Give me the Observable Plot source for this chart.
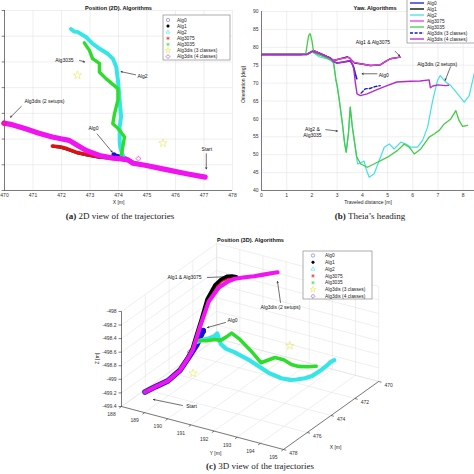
<!DOCTYPE html>
<html><head><meta charset="utf-8">
<script src="https://cdn.jsdelivr.net/npm/d3@7"></script>
<script src="https://cdn.jsdelivr.net/npm/@observablehq/plot@0.6"></script>
<style>
html,body{margin:0;padding:0;background:#fff;}
#root{position:relative;width:474px;height:474px;overflow:hidden;background:#fff;}
#root > svg{position:absolute;}
</style></head><body><div id="root"></div>
<script>
// ---------------- DATA ----------------
const seriesNames = ["Alg0","Alg1","Alg2","Alg3075","Alg3035","Alg3dis (3 classes)","Alg3dis (4 classes)"];

// Trajectories: X [m], Y [m] (2D view) and Z [m] (3D view)
const alg0X = [477.04, 476.39, 475.68, 474.98, 474.51, 474.20, 473.84];
const alg0Y = [188.52, 188.65, 188.81, 188.97, 189.10, 189.30, 189.39];
const alg0Z = [-499.26, -499.25, -499.24, -499.16, -499.02, -498.85, -498.68];

const alg1X = [477.04, 476.39, 475.68, 474.98, 474.51, 474.33, 474.09, 473.80, 473.33, 472.86, 472.51, 472.21, 471.98, 471.70];
const alg1Y = [188.52, 188.65, 188.81, 188.97, 189.06, 189.17, 189.21, 189.25, 189.29, 189.39, 189.48, 189.60, 189.68, 189.72];
const alg1Z = [-499.26, -499.25, -499.24, -499.15, -499.02, -498.90, -498.74, -498.57, -498.29, -498.13, -498.08, -498.06, -498.08, -498.12];

const alg3075X = [477.04, 476.39, 475.68, 474.98, 474.51, 474.33, 474.09, 473.80, 473.33, 472.86, 472.51, 472.21, 471.98, 471.68];
const alg3075Y = [188.52, 188.65, 188.81, 188.97, 189.06, 189.19, 189.23, 189.26, 189.30, 189.40, 189.49, 189.62, 189.69, 189.73];
const alg3075Z = [-499.26, -499.25, -499.24, -499.16, -499.04, -498.92, -498.77, -498.61, -498.32, -498.16, -498.10, -498.08, -498.10, -498.13];

const alg2X = [474.20, 474.12, 474.06, 474.04, 474.04, 474.04, 474.04, 474.09, 474.04, 473.98, 473.92, 473.80, 473.62, 473.33, 473.09, 472.86, 472.56, 472.45, 472.33];
const alg2Y = [189.25, 189.45, 189.70, 189.95, 190.10, 190.25, 190.47, 190.86, 191.51, 192.29, 192.81, 193.13, 193.32, 193.52, 193.71, 193.97, 194.17, 194.18, 194.28];
const alg2Z = [-498.82, -498.78, -498.74, -498.69, -498.63, -498.77, -498.82, -498.83, -498.90, -499.02, -499.06, -499.07, -499.07, -499.07, -499.05, -498.97, -498.89, -498.88, -498.86];

const alg3035X = [474.09, 474.15, 474.21, 474.09, 473.95, 473.80, 473.86, 473.98, 473.98, 473.56, 473.33, 473.33, 473.09, 472.98, 472.80];
const alg3035Y = [189.30, 189.69, 190.08, 190.27, 190.45, 190.60, 190.99, 191.51, 191.96, 192.35, 192.61, 192.94, 193.13, 193.45, 193.74];
const alg3035Z = [-498.80, -498.76, -498.70, -498.71, -498.66, -498.61, -498.66, -498.76, -498.90, -498.84, -498.88, -498.92, -498.96, -498.95, -498.94];

const alg3dis3X = [472.56, 475.56];
const alg3dis3Y = [192.48, 189.84];
const alg3dis3Z = [-498.78, -499.05];

const alg3dis4X = [477.04, 476.39, 475.68, 474.98, 474.51, 474.33, 474.09, 473.80, 473.33, 472.86, 472.51, 472.27, 471.98, 471.68, 471.21, 470.74, 470.27, 469.98];
const alg3dis4Y = [188.52, 188.65, 188.81, 188.97, 189.06, 189.19, 189.23, 189.26, 189.36, 189.56, 189.79, 189.95, 190.01, 190.08, 190.23, 190.40, 190.56, 190.62];
const alg3dis4Z = [-499.26, -499.25, -499.24, -499.16, -499.04, -498.92, -498.77, -498.61, -498.32, -498.15, -498.08, -498.06, -498.08, -498.10, -498.13, -498.15, -498.17, -498.19];
const alg3dis4MarkX = [474.70, 469.98];
const alg3dis4MarkY = [189.24, 190.62];
const alg3dis4MarkZ = [-498.90, -498.19];

// Heading (panel b): traveled distance [m] and orientation [deg]
const hAlg0D = [0, 1.8, 2.07, 2.34, 2.73, 2.86, 3.0, 3.26, 3.52, 3.6, 3.66, 3.72, 3.78];
const hAlg0 = [78, 78, 79, 78.2, 77, 76, 75.6, 75.9, 76.2, 75.3, 74.4, 72.6, 71.2];
const hAlg1D = [0, 1.54, 1.8, 2.07, 2.34, 2.73, 2.86, 3.13, 3.4, 3.5, 3.6, 3.7, 3.92, 4.32, 4.71, 4.91, 5.11, 5.44, 5.5];
const hAlg1 = [78, 78, 78.1, 79.1, 78.2, 77, 76.3, 76.8, 77.3, 77, 76.2, 75.6, 75.4, 74.9, 75.1, 76, 76.8, 77.2, 77.2];
const hAlg2D = [0, 1.8, 2.0, 2.3, 2.6, 2.75, 2.86, 2.95, 3.0, 3.08, 3.13, 3.21, 3.3, 3.36, 3.45, 3.52, 3.6, 3.68, 3.81, 3.95, 4.07, 4.15, 4.27, 4.47, 4.67, 4.87, 5.07, 5.26, 5.53, 5.73, 5.93, 6.19, 6.39, 6.59, 6.79, 6.98, 7.09, 7.31, 7.51, 7.78, 8.04, 8.24, 8.45];
const hAlg2 = [78, 78, 78.8, 77.3, 76.8, 76.3, 75.5, 71, 69.3, 65.5, 62.9, 58.6, 53, 50.7, 56, 63.3, 58, 54, 47.4, 47.8, 48.2, 46, 43.7, 44.7, 48.4, 52.1, 53, 51.6, 53.5, 53, 52.1, 52.1, 54, 57.7, 65.1, 70.7, 72.1, 70.3, 69.3, 67, 64.7, 66.5, 73];
const hAlg3075D = [0, 1.54, 1.8, 2.07, 2.34, 2.73, 2.86, 3.13, 3.46, 3.66, 3.92, 4.32, 4.71, 4.91, 5.11, 5.44, 5.5];
const hAlg3075 = [78, 78, 78.1, 79.1, 78.2, 77, 76.3, 76.8, 77.2, 75.8, 75.4, 74.9, 75.1, 76, 76.8, 77.2, 77.2];
const hAlg3035D = [0, 1.75, 1.87, 1.93, 2.0, 2.07, 2.3, 2.6, 2.75, 2.86, 2.95, 3.0, 3.08, 3.13, 3.21, 3.3, 3.36, 3.45, 3.52, 3.6, 3.68, 3.78, 3.94, 4.2, 4.6, 5.0, 5.4, 5.66, 5.86, 6.06, 6.32, 6.65, 6.85, 7.05, 7.25, 7.51, 7.71, 7.84, 7.98, 8.17];
const hAlg3035 = [78, 78, 83.3, 83.8, 81.9, 78.5, 77.8, 77, 76.5, 75.8, 71, 69.3, 65.5, 62.9, 58.6, 53, 50.7, 56, 63.3, 58, 54, 49.3, 47.4, 46.5, 47.9, 49.3, 51.2, 53, 52.1, 50.2, 51.6, 54.9, 55.8, 56.8, 58.6, 60, 62.3, 59.5, 57.9, 58.2];
const hAlg3dis3D = [3.95, 4.12, 4.3, 4.5, 4.71];
const hAlg3dis3 = [67.2, 68.4, 68.5, 69, 69.3];
const hAlg3dis4D = [0, 1.8, 2.0, 2.34, 2.73, 2.86, 3.0, 3.26, 3.52, 3.6, 3.66, 3.72, 3.79, 3.92, 4.19, 4.58, 4.98, 5.37, 5.9, 6.3, 6.65, 6.7, 6.8, 7.0, 7.3, 7.42];
const hAlg3dis4 = [78, 78, 78.9, 78.2, 77, 76, 75.6, 75.9, 76.3, 75.4, 74, 70.3, 67, 66.5, 67, 68.2, 69.3, 70.3, 70.5, 70.6, 70.9, 68.7, 69.2, 69.5, 69.3, 69.4];

// Tick values
const aTicksX = [470, 471, 472, 473, 474, 475, 476, 477, 478];
const aTicksY = [188, 189, 190, 191, 192, 193, 194, 195];
const bTicksX = [0, 1, 2, 3, 4, 5, 6, 7, 8];
const bTicksY = [40, 45, 50, 55, 60, 65, 70, 75, 80, 85, 90];
const cTicksX = [470, 472, 474, 476, 478];
const cTicksY = [188, 189, 190, 191, 192, 193, 194, 195];
const cTicksZ = [-499.4, -499.2, -499, -498.8, -498.6, -498.4, -498.2, -498];

// Annotations
const aNotes = [
  {text: "Alg3035", x: 472.1, y: 193.05},
  {text: "Alg2", x: 474.84, y: 192.43},
  {text: "Alg3dis (2 setups)", x: 471.4, y: 191.46},
  {text: "Alg0", x: 473.12, y: 190.41},
  {text: "Start", x: 477.1, y: 189.6}
];
const aArrows = [
  {x1: 472.63, y1: 193.06, x2: 472.81, y2: 193.0},
  {x1: 474.6, y1: 192.5, x2: 474.09, y2: 192.62},
  {x1: 470.59, y1: 191.27, x2: 470.21, y2: 190.85},
  {x1: 473.25, y1: 190.2, x2: 473.78, y2: 189.49},
  {x1: 477.08, y1: 189.43, x2: 477.08, y2: 188.84}
];
const bNotes = [
  {text: "Alg1 & Alg3075", x: 4.42, y: 81.6, anchor: "middle"},
  {text: "Alg0", x: 4.85, y: 72.3, anchor: "middle"},
  {text: "Alg3dis (2 setups)", x: 6.97, y: 75.4, anchor: "start"},
  {text: "Alg2 &\nAlg3035", x: 2.02, y: 56.3, anchor: "middle"}
];
const bArrows = [
  {x1: 5.3, y1: 78.9, x2: 5.48, y2: 77.6},
  {x1: 4.58, y1: 72.6, x2: 3.99, y2: 72.6},
  {x1: 7.49, y1: 74.4, x2: 7.29, y2: 70.8},
  {x1: 2.55, y1: 57, x2: 3.01, y2: 56.6}
];
const cNotes = [
  {text: "Alg1 & Alg3075", u: 184, v: 277},
  {text: "Alg3dis (2 setups)", u: 280, v: 307},
  {text: "Alg0", u: 232, v: 320},
  {text: "Start", u: 191, v: 406}
];
const cArrows = [
  {u1: 207, v1: 277, u2: 230, v2: 276},
  {u1: 280, v1: 302, u2: 277, v2: 281},
  {u1: 225, v1: 322, u2: 207, v2: 327},
  {u1: 182, v1: 405, u2: 153, v2: 399}
];
const cAxisTitles = [{text: "Y [m]", u: 215, v: 453}, {text: "X [m]", u: 335, v: 447}];

// ---------------- STYLE ----------------
const FONT = "'Liberation Sans', Arial, Helvetica, sans-serif";
const SERIF = "'Liberation Serif', 'DejaVu Serif', 'Times New Roman', serif";
const C = {
  alg0: "#1414d2", alg1: "#000000", alg2: "#36e6e6", alg3075: "#e01010",
  alg3035: "#2edc2e", alg3dis3: "#e6e65a", alg3dis4: "#f014f0",
  bAlg2: "#44e0e6", bAlg3075: "#e83ee8", bAlg3035: "#44cc44", bAlg3dis4: "#b42cc8", bAlg0: "#1a1ac8"
};
const GRID = "#dedede", AXIS = "#2a2a2a";

const root = document.getElementById("root");
const pts = (X, Y) => X.map((x, i) => ({x, y: Y[i]}));
const lineOpts = {x: "x", y: "y", strokeLinejoin: "round", strokeLinecap: "round"};

// ---------------- PANEL A ----------------
const plotA = Plot.plot({
  width: 237, height: 210, marginLeft: 4, marginRight: 5, marginTop: 10, marginBottom: 20,
  x: {domain: [470, 478]}, y: {domain: [188, 195], axis: null},
  style: {fontFamily: FONT, fontSize: "5px", background: "transparent", overflow: "visible"},
  marks: [
    Plot.gridX(aTicksX, {stroke: GRID, strokeOpacity: 1, strokeWidth: 0.5}),
    Plot.gridY(aTicksY, {stroke: GRID, strokeOpacity: 1, strokeWidth: 0.5}),
    Plot.axisX(aTicksX, {tickSize: 0, tickPadding: 3, label: null, fill: "#333"}),
    Plot.link(aTicksY, {x1: () => 470, x2: () => 469.9, y1: d => d, y2: d => d, stroke: AXIS, strokeWidth: 0.6}),
    Plot.ruleX([470], {stroke: AXIS, strokeWidth: 0.6}),
    Plot.ruleY([188], {stroke: AXIS, strokeWidth: 0.6}),
    Plot.line(pts(alg0X, alg0Y), {...lineOpts, stroke: C.alg0, strokeWidth: 3}),
    Plot.dot([{x: alg0X[alg0X.length - 1], y: alg0Y[alg0Y.length - 1]}], {x: "x", y: "y", r: 1.8, fill: C.alg0, stroke: C.alg0}),
    Plot.line(pts(alg1X, alg1Y), {...lineOpts, stroke: C.alg1, strokeWidth: 3}),
    Plot.line(pts(alg2X, alg2Y), {...lineOpts, stroke: C.alg2, strokeWidth: 4}),
    Plot.line(pts(alg3075X, alg3075Y), {...lineOpts, stroke: C.alg3075, strokeWidth: 3.6}),
    Plot.line(pts(alg3035X, alg3035Y), {...lineOpts, stroke: C.alg3035, strokeWidth: 3.4}),
    Plot.dot(pts(alg3dis3X, alg3dis3Y), {x: "x", y: "y", symbol: "star", r: 2.6, stroke: C.alg3dis3, strokeWidth: 0.6, fill: "none"}),
    Plot.line(pts(alg3dis4X, alg3dis4Y), {...lineOpts, stroke: C.alg3dis4, strokeWidth: 5.2}),
    Plot.dot(pts(alg3dis4MarkX, alg3dis4MarkY), {x: "x", y: "y", symbol: "diamond2", r: 2.2, stroke: (d, i) => i === 0 ? C.alg3dis4 : C.alg3075, strokeWidth: 0.7, fill: "none"}),
    Plot.arrow(aArrows, {x1: "x1", y1: "y1", x2: "x2", y2: "y2", stroke: "#111", strokeWidth: 0.6, headLength: 3.5, headAngle: 50}),
    Plot.text(aNotes, {x: "x", y: "y", text: "text", fontSize: 5, fill: "#111"}),
    Plot.text(["Position (2D). Algorithms"], {frameAnchor: "top", dy: -4, fontWeight: "bold", fontSize: 5.6, fill: "#111"}),
    Plot.text(["X [m]"], {frameAnchor: "bottom", dy: 13, fontSize: 5, fill: "#222"})
  ]
});
plotA.style.left = "0px"; plotA.style.top = "0px";
root.appendChild(plotA);

// ---------------- PANEL B ----------------
const bLine = (D, V, stroke, w, extra = {}) => Plot.line(pts(D, V), {...lineOpts, stroke, strokeWidth: w, clip: true, ...extra});
const plotB = Plot.plot({
  width: 237, height: 210, marginLeft: 24, marginRight: 0, marginTop: 11, marginBottom: 20,
  x: {domain: [0, 8.45]}, y: {domain: [40, 90]},
  style: {fontFamily: FONT, fontSize: "5px", background: "transparent", overflow: "visible"},
  marks: [
    Plot.gridX(bTicksX, {stroke: GRID, strokeOpacity: 1, strokeWidth: 0.5}),
    Plot.gridY(bTicksY, {stroke: GRID, strokeOpacity: 1, strokeWidth: 0.5}),
    Plot.axisX(bTicksX, {tickSize: 0, tickPadding: 3, label: null, fill: "#333"}),
    Plot.axisY(bTicksY, {tickSize: 0, tickPadding: 3, label: null, fill: "#333"}),
    Plot.ruleX([0], {stroke: AXIS, strokeWidth: 0.6}),
    Plot.ruleY([40], {stroke: AXIS, strokeWidth: 0.6}),
    bLine(hAlg0D, hAlg0, C.bAlg0, 1.6),
    bLine(hAlg1D, hAlg1, C.alg1, 1.4),
    bLine(hAlg2D, hAlg2, C.bAlg2, 1.2),
    bLine(hAlg3075D, hAlg3075, C.bAlg3075, 1.4),
    bLine(hAlg3035D, hAlg3035, C.bAlg3035, 1.3),
    bLine(hAlg3dis3D, hAlg3dis3, C.bAlg0, 1.4, {strokeDasharray: "3,2"}),
    bLine(hAlg3dis4D, hAlg3dis4, C.bAlg3dis4, 1.4),
    Plot.arrow(bArrows, {x1: "x1", y1: "y1", x2: "x2", y2: "y2", stroke: "#111", strokeWidth: 0.6, headLength: 3.5, headAngle: 50}),
    Plot.text(bNotes, {x: "x", y: "y", text: "text", textAnchor: d => d.anchor, fontSize: 5, fill: "#111", lineHeight: 1.25}),
    Plot.text(["Yaw. Algorithms"], {frameAnchor: "top", dx: 7, dy: -5, fontWeight: "bold", fontSize: 5.6, fill: "#111"}),
    Plot.text(["Traveled distance [m]"], {frameAnchor: "bottom", dy: 13, fontSize: 5, fill: "#222"}),
    Plot.text(["Orientation [deg]"], {frameAnchor: "left", dx: -18, dy: 2, rotate: -90, fontSize: 5, fill: "#222"})
  ]
});
plotB.style.left = "237px"; plotB.style.top = "0px";
root.appendChild(plotB);

// ---------------- PANEL C (3D) ----------------
const view3d = {u0: 121, v0: 406, ux: -11.9, vx: 8.5, uy: 23.14, vy: 6.14, vz: -67.9, X0: 478, Y0: 188, Z0: -499.4};
function P(X, Y, Z) {
  return {
    u: view3d.u0 + view3d.ux * (X - view3d.X0) + view3d.uy * (Y - view3d.Y0),
    v: view3d.v0 + view3d.vx * (X - view3d.X0) + view3d.vy * (Y - view3d.Y0) + view3d.vz * (Z - view3d.Z0)
  };
}
const traj3 = (X, Y, Z) => X.map((x, i) => P(x, Y[i], Z[i]));
const xMin = d3.min(cTicksX), xMax = d3.max(cTicksX), yMin = d3.min(cTicksY), yMax = d3.max(cTicksY), zMin = d3.min(cTicksZ), zMax = d3.max(cTicksZ);
const seg = (a, b) => ({u1: a.u, v1: a.v, u2: b.u, v2: b.v});
const grid3 = [];
cTicksX.forEach(x => { grid3.push(seg(P(x, yMin, zMin), P(x, yMax, zMin))); grid3.push(seg(P(x, yMin, zMin), P(x, yMin, zMax))); });
cTicksY.forEach(y => { grid3.push(seg(P(xMin, y, zMin), P(xMax, y, zMin))); grid3.push(seg(P(xMin, y, zMin), P(xMin, y, zMax))); });
cTicksZ.forEach(z => { grid3.push(seg(P(xMin, yMin, z), P(xMax, yMin, z))); grid3.push(seg(P(xMin, yMin, z), P(xMin, yMax, z))); });
const axes3 = [
  seg(P(xMax, yMin, zMin), P(xMax, yMin, zMax)),
  seg(P(xMax, yMin, zMin), P(xMax, yMax, zMin)),
  seg(P(xMax, yMax, zMin), P(xMin, yMax, zMin))
];
const zTicks3 = cTicksZ.map(z => ({...P(xMax, yMin, z), label: String(+z.toFixed(1))}));
const yTicks3 = cTicksY.map(y => ({...P(xMax, y, zMin), label: String(y)}));
const xTicks3 = cTicksX.map(x => ({...P(x, yMax, zMin), label: String(x)}));
const lineC = {x: "u", y: "v", strokeLinejoin: "round", strokeLinecap: "round"};
const startPt = P(alg3dis4X[0], alg3dis4Y[0], alg3dis4Z[0]);
const blob = P(alg0X[alg0X.length - 1], alg0Y[alg0Y.length - 1], alg0Z[alg0Z.length - 1]);

const plotC = Plot.plot({
  width: 474, height: 232, marginLeft: 0, marginRight: 0, marginTop: 0, marginBottom: 0,
  x: {domain: [0, 474], range: [0, 474], axis: null}, y: {domain: [232, 464], range: [0, 232], axis: null},
  style: {fontFamily: FONT, fontSize: "5px", background: "transparent", overflow: "visible"},
  marks: [
    Plot.link(grid3, {x1: "u1", y1: "v1", x2: "u2", y2: "v2", stroke: GRID, strokeWidth: 0.5}),
    Plot.link(axes3, {x1: "u1", y1: "v1", x2: "u2", y2: "v2", stroke: AXIS, strokeWidth: 0.6}),
    Plot.link(zTicks3, {x1: "u", y1: "v", x2: d => d.u - 3, y2: "v", stroke: AXIS, strokeWidth: 0.6}),
    Plot.link(yTicks3, {x1: "u", y1: "v", x2: d => d.u - 2.2, y2: d => d.v + 1.6, stroke: AXIS, strokeWidth: 0.6}),
    Plot.link(xTicks3, {x1: "u", y1: "v", x2: d => d.u + 2.8, y2: d => d.v + 0.8, stroke: AXIS, strokeWidth: 0.6}),
    Plot.text(zTicks3, {x: "u", y: "v", text: "label", dx: -5, textAnchor: "end", fill: "#333"}),
    Plot.text(yTicks3, {x: "u", y: "v", text: "label", dx: -10, dy: 8, fill: "#333"}),
    Plot.text(xTicks3, {x: "u", y: "v", text: "label", dx: 10, dy: 4, fill: "#333"}),
    Plot.text(cAxisTitles, {x: "u", y: "v", text: "text", fill: "#222"}),
    Plot.text(["Z [m]"], {x: () => 97, y: () => 358, rotate: -90, fill: "#222"}),
    Plot.line(traj3(alg0X, alg0Y, alg0Z), {...lineC, stroke: C.alg0, strokeWidth: 5.6}),
    Plot.dot([blob], {x: "u", y: "v", r: 2.2, fill: C.alg0, stroke: C.alg0}),
    Plot.line(traj3(alg2X, alg2Y, alg2Z), {...lineC, stroke: C.alg2, strokeWidth: 4.2}),
    Plot.line(traj3(alg3075X, alg3075Y, alg3075Z), {...lineC, stroke: C.alg3075, strokeWidth: 3.2}),
    Plot.line(traj3(alg1X, alg1Y, alg1Z), {...lineC, stroke: C.alg1, strokeWidth: 3.4}),
    Plot.line(traj3(alg3035X, alg3035Y, alg3035Z), {...lineC, stroke: C.alg3035, strokeWidth: 3.6}),
    Plot.dot(traj3(alg3dis3X, alg3dis3Y, alg3dis3Z), {x: "u", y: "v", symbol: "star", r: 2.6, stroke: C.alg3dis3, strokeWidth: 0.6, fill: "none"}),
    Plot.line(traj3(alg3dis4X, alg3dis4Y, alg3dis4Z), {...lineC, stroke: C.alg3dis4, strokeWidth: 4.2}),
    Plot.dot([P(alg3dis4MarkX[0], alg3dis4MarkY[0], alg3dis4MarkZ[0])], {x: "u", y: "v", symbol: "diamond2", r: 2.2, stroke: "#b040d0", strokeWidth: 0.6, fill: "none"}),
    Plot.dot([startPt], {x: "u", y: "v", r: 2.3, stroke: "#6a4aa8", strokeWidth: 0.7, fill: "none"}),
    Plot.arrow(cArrows, {x1: "u1", y1: "v1", x2: "u2", y2: "v2", stroke: "#111", strokeWidth: 0.6, headLength: 3.5, headAngle: 50}),
    Plot.text(cNotes, {x: "u", y: "v", text: "text", fontSize: 5, fill: "#111"}),
    Plot.text(["Position (3D). Algorithms"], {x: () => 250, y: () => 240, fontWeight: "bold", fontSize: 5.6, fill: "#111"})
  ]
});
plotC.style.left = "0px"; plotC.style.top = "232px";
root.appendChild(plotC);

// ---------------- LEGENDS & CAPTIONS (overlay) ----------------
const ov = d3.select(root).append("svg")
  .attr("width", 474).attr("height", 474)
  .style("left", "0px").style("top", "0px").style("pointer-events", "none")
  .style("font-family", FONT);

const markerLegend = [
  {sym: d3.symbolCircle, stroke: "#6a6ad8", fill: "none", size: 9},
  {sym: d3.symbolCircle, stroke: "#000", fill: "#000", size: 5},
  {sym: d3.symbolTriangle2, stroke: C.alg2, fill: "none", size: 10},
  {sym: d3.symbolAsterisk, stroke: C.alg3075, fill: "none", size: 9},
  {sym: d3.symbolAsterisk, stroke: C.alg3035, fill: "none", size: 9},
  {sym: d3.symbolStar, stroke: C.alg3dis3, fill: "none", size: 10},
  {sym: d3.symbolDiamond2, stroke: "#a030c0", fill: "none", size: 10}
];
function markerBox(x, y, w, h, rowY0, dy, mx, tx) {
  const g = ov.append("g");
  g.append("rect").attr("x", x).attr("y", y).attr("width", w).attr("height", h)
    .attr("fill", "#fff").attr("stroke", "#777").attr("stroke-width", 0.6);
  seriesNames.forEach((name, i) => {
    const m = markerLegend[i];
    const yy = rowY0 + i * dy;
    g.append("path").attr("d", d3.symbol(m.sym, m.size)()).attr("transform", `translate(${mx},${yy})`)
      .attr("fill", m.fill).attr("stroke", m.stroke).attr("stroke-width", 0.6);
    g.append("text").attr("x", tx).attr("y", yy).attr("dy", "0.35em").attr("font-size", 4.8).attr("fill", "#222").text(name);
  });
}
markerBox(163, 15, 67, 45, 20, 6.1, 168, 177);
markerBox(303, 251, 69, 48, 255.5, 6.8, 313, 325);

const lineLegend = [
  {stroke: C.bAlg0, dash: null}, {stroke: "#000", dash: null}, {stroke: C.bAlg2, dash: null},
  {stroke: C.bAlg3075, dash: null}, {stroke: C.bAlg3035, dash: null},
  {stroke: C.bAlg0, dash: "3,1.6"}, {stroke: C.bAlg3dis4, dash: null}
];
(function () {
  const g = ov.append("g");
  g.append("rect").attr("x", 407).attr("y", -2).attr("width", 70).attr("height", 45)
    .attr("fill", "#fff").attr("stroke", "#777").attr("stroke-width", 0.6);
  seriesNames.forEach((name, i) => {
    const yy = 3 + i * 6;
    const l = lineLegend[i];
    g.append("line").attr("x1", 410).attr("x2", 424).attr("y1", yy).attr("y2", yy)
      .attr("stroke", l.stroke).attr("stroke-width", 1.3).attr("stroke-dasharray", l.dash);
    g.append("text").attr("x", 427).attr("y", yy).attr("dy", "0.35em").attr("font-size", 4.8).attr("fill", "#222").text(name);
  });
})();

function caption(cx, cy, tag, rest) {
  const t = ov.append("text").attr("x", cx).attr("y", cy).attr("text-anchor", "middle")
    .attr("font-family", SERIF).attr("font-size", 9).attr("fill", "#222");
  t.append("tspan").attr("font-weight", "bold").text(tag);
  t.append("tspan").text(" " + rest);
}
caption(120, 219, "(a)", "2D view of the trajectories");
caption(370, 219, "(b)", "Theia\u2019s heading");
caption(260, 469, "(c)", "3D view of the trajectories");
</script></body></html>
